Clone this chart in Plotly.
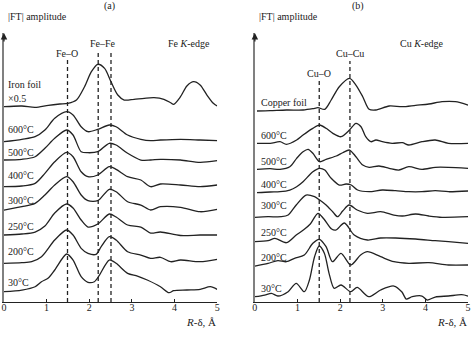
import plotly.graph_objects as go

# ---- Fe K-edge FT magnitudes (stacked, arbitrary units) ----
fe_foil_r = [0.0, 0.42, 0.73, 1.04, 1.31, 1.50, 1.70, 1.89, 2.05, 2.20, 2.36, 2.51, 2.67, 2.82,
             3.05, 3.29, 3.52, 3.75, 3.91, 3.98, 4.14, 4.29, 4.45, 4.60, 4.76, 4.91, 5.0]
fe_foil = [195.3, 196, 194.7, 196.7, 198, 198.7, 202, 215.3, 230.3, 237.7, 233.7, 220.3, 207, 202,
           202.7, 203.7, 204.3, 202.7, 199.3, 197.7, 205.3, 216, 220.3, 217, 207, 198.7, 196]

fe_r = [0.0, 0.42, 0.73, 0.96, 1.19, 1.47, 1.62, 1.81, 1.97, 2.20, 2.47, 2.63, 2.90, 3.21,
        3.44, 3.67, 4.14, 4.60, 5.0]
fe_600 = [160.3, 162.7, 165.3, 172, 183.7, 190.3, 187, 175.3, 170.3, 172.7, 177, 175.3, 167, 162.7,
          161.3, 162, 162.7, 162, 161.3]
fe_500 = [142, 142.7, 145.3, 153.7, 163.7, 172, 167, 150.3, 149.3, 150.3, 158.7, 157, 148.7, 142,
          142, 142.7, 142, 139.7, 141.3]
fe_400 = [115.3, 116, 118.7, 128.7, 140.3, 149.7, 145.3, 130.3, 125.3, 127, 135.3, 132.7, 125.3, 122,
          115.3, 118, 117, 115.3, 117]
fe_300 = [92, 95.3, 98.7, 107, 117, 125.3, 120.3, 107, 101.3, 101.3, 112.7, 110.3, 100.3, 97,
          92, 95.3, 94.7, 90.3, 92.7]
fe_250 = [67, 68, 70, 76, 89, 98, 94, 82, 75, 78, 88, 85, 77, 75,
          69, 70, 66.5, 67, 67]

fe_200_r = [0.0, 0.42, 0.65, 0.88, 1.19, 1.47, 1.62, 1.81, 1.97, 2.16, 2.28, 2.47, 2.63, 2.90,
            3.21, 3.44, 3.67, 3.91, 4.14, 4.60, 5.0]
fe_200 = [38.7, 39.3, 40.3, 45.3, 62, 72, 67, 53.7, 48.7, 47.7, 55.3, 65.3, 62, 50.3,
          47, 43.7, 44.7, 40.3, 42, 40.3, 42.7]

fe_30_r = [0.0, 0.42, 0.73, 0.88, 1.04, 1.19, 1.47, 1.62, 1.81, 1.97, 2.12, 2.24, 2.47, 2.63,
           2.90, 3.13, 3.36, 3.67, 3.87, 3.98, 4.29, 4.60, 4.84, 5.0]
fe_30 = [10.3, 12, 15.3, 20.3, 24, 32, 48, 42, 25.3, 19.7, 20.3, 27, 42, 38.7,
         28.7, 26, 22, 15.3, 9.3, 11.3, 12, 12.7, 15.3, 12.7]

# ---- Cu K-edge FT magnitudes (stacked, arbitrary units) ----
cu_foil_r = [0.05, 0.36, 0.74, 1.13, 1.36, 1.48, 1.64, 1.79, 1.98, 2.22, 2.37, 2.53, 2.68, 2.84,
             3.15, 3.46, 3.77, 4.08, 4.39, 4.70, 5.0]
cu_foil = [191, 191.3, 192, 192, 193.3, 194.3, 192.7, 202, 215.3, 223.7, 217, 205.3, 192.7, 192,
           196, 195.3, 196.7, 198, 200.3, 200.3, 197]

cu_600_r = [0.05, 0.36, 0.59, 0.74, 0.98, 1.13, 1.36, 1.52, 1.67, 1.83, 2.02, 2.22, 2.37, 2.49,
            2.60, 2.72, 2.84, 2.99, 3.22, 3.46, 3.61, 3.92, 4.23, 4.54, 5.0]
cu_600 = [158.7, 158.7, 160.3, 157.7, 162, 167, 173.7, 177, 173.7, 168.7, 165.3, 172, 178.7, 175.3,
          165.3, 160.3, 162, 160.3, 158.7, 159.3, 157, 160.3, 162, 158.7, 158.7]

cu_500_r = [0.05, 0.36, 0.59, 0.82, 0.98, 1.13, 1.25, 1.36, 1.52, 1.67, 1.91, 2.06, 2.22, 2.37,
            2.53, 2.68, 2.91, 3.15, 3.38, 3.61, 3.92, 4.23, 4.54, 5.0]
cu_500 = [132.7, 133.3, 132.7, 135.3, 143.7, 150.3, 152.7, 148.7, 140.3, 142.7, 146, 149.3, 152, 145.3,
          137, 134.7, 136, 133.7, 132, 135.3, 132.7, 134.7, 134.7, 133.7]

cu_400_r = [0.05, 0.36, 0.59, 0.82, 0.98, 1.13, 1.36, 1.52, 1.64, 1.79, 1.98, 2.14, 2.26, 2.41,
            2.68, 2.99, 3.30, 3.61, 3.92, 4.23, 4.54, 5.0]
cu_400 = [109.3, 110, 110.3, 112, 115.3, 120.3, 130.3, 133.7, 132, 123.7, 117, 118, 117, 112,
          110.3, 112, 111.3, 110.3, 110.3, 111.3, 110.3, 111]

cu_300_r = [0.0, 0.31, 0.62, 0.78, 0.97, 1.20, 1.40, 1.52, 1.67, 1.83, 1.94, 2.06, 2.21, 2.40,
            2.64, 2.95, 3.26, 3.46, 3.77, 4.08, 4.39, 5.0]
cu_300 = [84.7, 85.3, 85.3, 87, 97, 107, 105.3, 102, 97, 90, 85.3, 91, 97, 92,
          88.7, 90.3, 87, 86, 88, 86, 84.7, 85.3]

cu_250_r = [0.0, 0.31, 0.47, 0.74, 0.97, 1.16, 1.30, 1.48, 1.62, 1.80, 1.90, 2.10, 2.33, 2.64,
            2.95, 3.30, 3.77, 4.23, 4.54, 5.0]
cu_250 = [60.3, 61.3, 63.7, 59.3, 67, 72.7, 78, 88.7, 83, 73, 72, 79, 67, 62,
          64, 64, 63, 61.3, 60.3, 58.7]

cu_200_r = [0.0, 0.31, 0.54, 0.74, 0.93, 1.16, 1.36, 1.51, 1.67, 1.82, 2.02, 2.25, 2.48, 2.64,
            2.95, 3.26, 3.61, 4.08, 4.54, 5.0]
cu_200 = [36, 38.7, 41.3, 40.3, 43.7, 47, 58.7, 62.7, 55.3, 40.3, 48.7, 37, 47, 50.3,
          45.3, 40.3, 38.7, 39.3, 37, 37]

cu_30_r = [0.0, 0.23, 0.39, 0.54, 0.78, 0.97, 1.16, 1.28, 1.40, 1.51, 1.63, 1.74, 1.86, 2.02,
           2.25, 2.40, 2.67, 2.95, 3.26, 3.45, 3.55, 3.69, 3.92, 4.04, 4.23, 4.54, 4.85, 5.0]
cu_30 = [5.3, 7, 8.7, 6, 10.3, 18.7, 10.3, 22, 45.3, 56, 48.7, 28.7, 13.7, 17,
         10.3, 14.7, 5.3, 12, 16, 10, 3, 5.3, 6, 2, 5, 6, 7.3, 6]

fe_curves = [(fe_foil_r, fe_foil), (fe_r, fe_600), (fe_r, fe_500), (fe_r, fe_400),
             (fe_r, fe_300), (fe_r, fe_250), (fe_200_r, fe_200), (fe_30_r, fe_30)]
cu_curves = [(cu_foil_r, cu_foil), (cu_600_r, cu_600), (cu_500_r, cu_500), (cu_400_r, cu_400),
             (cu_300_r, cu_300), (cu_250_r, cu_250), (cu_200_r, cu_200), (cu_30_r, cu_30)]

# curve labels and their heights
fe_labels = ["Iron foil", "×0.5", "600°C", "500°C", "400°C", "300°C", "250°C", "200°C", "30°C"]
fe_label_y = [218, 204, 173, 149.3, 127, 102, 75.3, 51, 19.3]
cu_labels = ["Copper foil", "600°C", "500°C", "400°C", "300°C", "250°C", "200°C", "30°C"]
cu_label_y = [199.3, 167, 141, 118, 96.3, 69.3, 44.3, 14]

# bond distances marked with dashed lines: (R, top of line)
fe_bonds = [(1.49, 242), (2.21, 250), (2.51, 250)]
cu_bonds = [(1.51, 222), (2.23, 241)]

tick_vals = [0, 1, 2, 3, 4, 5]
Y_TOP = 269

FONT = "Liberation Serif"
INK = "#222222"

fig = go.Figure()
for xr, yr in fe_curves:
    fig.add_trace(go.Scatter(x=xr, y=yr, mode="lines", xaxis="x", yaxis="y",
                             line=dict(color=INK, width=1.3, shape="spline", smoothing=0.8),
                             hoverinfo="skip", showlegend=False))
for xr, yr in cu_curves:
    fig.add_trace(go.Scatter(x=xr, y=yr, mode="lines", xaxis="x2", yaxis="y2",
                             line=dict(color=INK, width=1.3, shape="spline", smoothing=0.8),
                             hoverinfo="skip", showlegend=False))

shapes = []
for xref, yref, bonds in (("x", "y", fe_bonds), ("x2", "y2", cu_bonds)):
    for r, top in bonds:
        shapes.append(dict(type="line", xref=xref, yref=yref, x0=r, x1=r, y0=0, y1=top,
                           line=dict(color=INK, width=1.3, dash="4px,3px")))

ann = []
txt = dict(family=FONT, size=10, color=INK)


def label(x, y, text, xref, yref, xanchor="center", font=txt):
    return dict(x=x, y=y, xref=xref, yref=yref, text=text, showarrow=False,
                xanchor=xanchor, yanchor="middle", font=font)


for lab, yv in zip(fe_labels, fe_label_y):
    ann.append(label(0.05, yv, lab, "x", "y", "left"))
for lab, yv in zip(cu_labels, cu_label_y):
    ann.append(label(0.09, yv, lab, "x2", "y2", "left"))

axis_font = dict(family=FONT, size=11, color=INK)
ann += [
    label(1.47, 249, "Fe–O", "x", "y"),
    label(2.33, 259, "Fe–Fe", "x", "y"),
    label(4.33, 259, "Fe <i>K</i>-edge", "x", "y"),
    label(1.51, 229, "Cu–O", "x2", "y2"),
    label(2.23, 249, "Cu–Cu", "x2", "y2"),
    label(3.93, 259, "Cu <i>K</i>-edge", "x2", "y2"),
    label(0.228, 0.983, "(a)", "paper", "paper"),
    label(0.757, 0.983, "(b)", "paper", "paper"),
    label(0.008, 0.951, "|FT| amplitude", "paper", "paper", "left"),
    label(0.542, 0.951, "|FT| amplitude", "paper", "paper", "left"),
    label(0.46, 0.067, "<i>R</i>-δ, Å", "paper", "paper", "right", axis_font),
    label(0.994, 0.067, "<i>R</i>-δ, Å", "paper", "paper", "right", axis_font),
]
# arrowheads on the vertical axes
for xref, yref in (("x", "y"), ("x2", "y2")):
    ann.append(dict(x=0, y=Y_TOP, xref=xref, yref=yref, ax=0, ay=10, text="",
                    showarrow=True, arrowhead=2, arrowsize=1, arrowwidth=1.3, arrowcolor=INK))

xax = dict(range=[0, 5], tickvals=tick_vals, ticks="inside", ticklen=3, tickcolor=INK,
           ticklabelstandoff=-4,
           showline=True, linecolor=INK, linewidth=1, showgrid=False, zeroline=False,
           tickfont=dict(family=FONT, size=10, color=INK))
yax = dict(range=[0, Y_TOP], showticklabels=False, ticks="", showgrid=False, zeroline=False,
           showline=True, linecolor="#808080", linewidth=2, domain=[0.1246, 0.9043])

fig.update_layout(
    width=474, height=345, margin=dict(l=0, r=0, t=0, b=0),
    paper_bgcolor="white", plot_bgcolor="white",
    xaxis=dict(xax, domain=[0.0042, 0.4578], anchor="y"),
    yaxis=dict(yax, anchor="x"),
    xaxis2=dict(xax, domain=[0.538, 0.9916], anchor="y2"),
    yaxis2=dict(yax, anchor="x2"),
    shapes=shapes, annotations=ann, showlegend=False,
)

fig.write_html("out.html")
